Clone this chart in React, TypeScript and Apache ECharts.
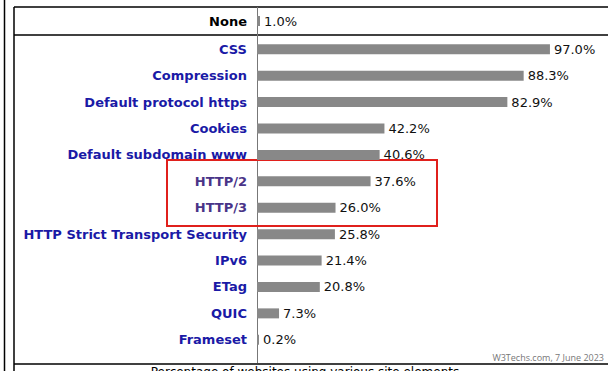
import React, { useEffect, useRef } from "react";
import * as echarts from "echarts";

const topCategories = ["None"];
const topValues = [1.0];

const categories = [
  "CSS",
  "Compression",
  "Default protocol https",
  "Cookies",
  "Default subdomain www",
  "HTTP/2",
  "HTTP/3",
  "HTTP Strict Transport Security",
  "IPv6",
  "ETag",
  "QUIC",
  "Frameset",
];
const values = [97.0, 88.3, 82.9, 42.2, 40.6, 37.6, 26.0, 25.8, 21.4, 20.8, 7.3, 0.2];
const visited = ["HTTP/2", "HTTP/3"];

const FONT = "'DejaVu Sans', Verdana, sans-serif";

export default function App() {
  const ref = useRef<HTMLDivElement>(null);
  useEffect(() => {
    if (!ref.current) return;
    const chart = echarts.init(ref.current, undefined, { renderer: "svg" });
    const labelRich = {
      k: { color: "#000000", fontWeight: "bold", fontSize: 13, fontFamily: FONT },
      b: { color: "#1a1aa6", fontWeight: "bold", fontSize: 13, fontFamily: FONT },
      p: { color: "#4a3488", fontWeight: "bold", fontSize: 13, fontFamily: FONT },
    };
    const valueLabel = {
      show: true,
      position: "right",
      distance: 4,
      color: "#111",
      fontSize: 13,
      fontFamily: FONT,
      formatter: (p: any) => Number(p.value).toFixed(1) + "%",
    };
    chart.setOption({
      animation: false,
      grid: [
        { left: 257, right: 49, top: 7, height: 28 },
        { left: 257, right: 49, top: 36, height: 317 },
      ],
      xAxis: [
        { gridIndex: 0, type: "value", min: 0, max: 100, show: false },
        { gridIndex: 1, type: "value", min: 0, max: 100, show: false },
      ],
      yAxis: [
        {
          gridIndex: 0,
          type: "category",
          data: topCategories,
          inverse: true,
          axisLine: { show: false },
          axisTick: { show: false },
          axisLabel: { margin: 10, formatter: (v: string) => `{k|${v}}`, rich: labelRich },
        },
        {
          gridIndex: 1,
          type: "category",
          data: categories,
          inverse: true,
          axisLine: { show: false },
          axisTick: { show: false },
          axisLabel: {
            margin: 10,
            formatter: (v: string) => (visited.includes(v) ? `{p|${v}}` : `{b|${v}}`),
            rich: labelRich,
          },
        },
      ],
      series: [
        {
          type: "bar",
          xAxisIndex: 0,
          yAxisIndex: 0,
          data: topValues,
          barWidth: 10,
          barMinHeight: 2,
          itemStyle: { color: "#888888" },
          label: valueLabel,
        },
        {
          type: "bar",
          xAxisIndex: 1,
          yAxisIndex: 1,
          data: values,
          barWidth: 10,
          barMinHeight: 2,
          itemStyle: { color: "#888888" },
          label: valueLabel,
        },
      ],
      graphic: [
        { type: "line", shape: { x1: 4.5, y1: 0, x2: 4.5, y2: 371 }, style: { stroke: "#000", lineWidth: 1.5 } },
        { type: "line", shape: { x1: 14, y1: 7, x2: 608, y2: 7 }, style: { stroke: "#000", lineWidth: 1.5 } },
        { type: "line", shape: { x1: 14, y1: 35, x2: 608, y2: 35 }, style: { stroke: "#000", lineWidth: 1.5 } },
        { type: "line", shape: { x1: 14, y1: 364, x2: 608, y2: 364 }, style: { stroke: "#000", lineWidth: 1.5 } },
        { type: "line", shape: { x1: 14, y1: 7, x2: 14, y2: 371 }, style: { stroke: "#000", lineWidth: 1.5 } },
        { type: "line", shape: { x1: 257.5, y1: 7, x2: 257.5, y2: 363 }, style: { stroke: "#777", lineWidth: 1 } },
        {
          type: "rect",
          shape: { x: 167, y: 160, width: 270, height: 66 },
          style: { fill: "none", stroke: "#e0201c", lineWidth: 2 },
        },
        {
          type: "text",
          x: 604,
          y: 357,
          style: {
            text: "W3Techs.com, 7 June 2023",
            fill: "#777",
            fontSize: 9,
            fontFamily: "'Open Sans', sans-serif",
            align: "right",
            verticalAlign: "middle",
          },
        },
        {
          type: "text",
          x: 305,
          y: 366,
          style: {
            text: "Percentage of websites using various site elements",
            fill: "#000",
            fontSize: 12,
            fontFamily: FONT,
            align: "center",
            verticalAlign: "top",
          },
        },
      ],
    });
    return () => chart.dispose();
  }, []);
  return <div ref={ref} style={{ width: 608, height: 371, position: "fixed", left: 0, top: 0, background: "#fff" }} />;
}
